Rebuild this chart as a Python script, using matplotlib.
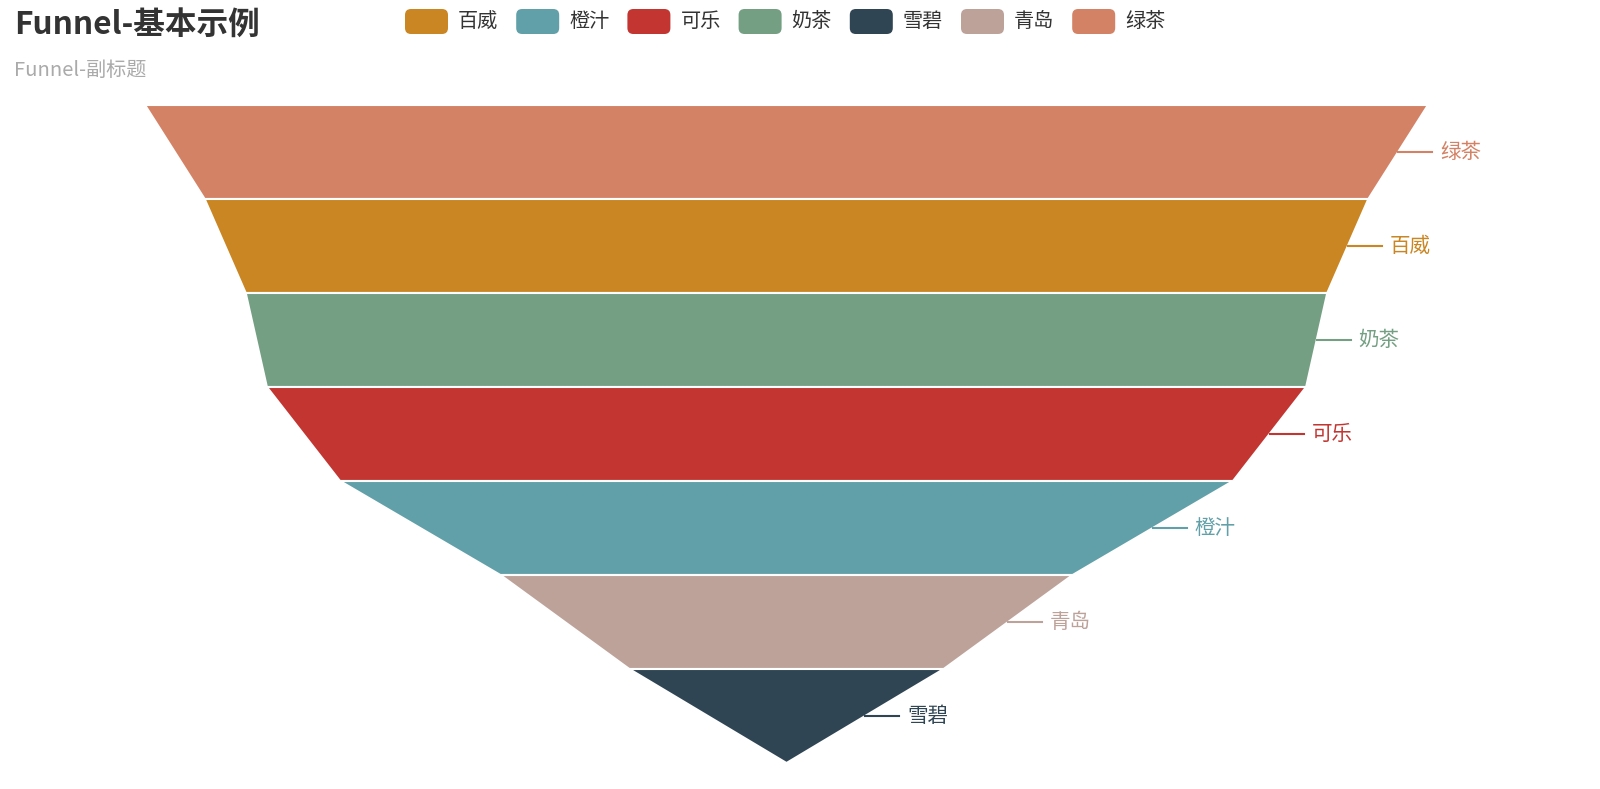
import matplotlib
matplotlib.use('Agg')
import matplotlib.pyplot as plt
from matplotlib.patches import Polygon, FancyBboxPatch

plt.rcParams['font.family'] = ['Noto Sans CJK SC', 'DejaVu Sans']

# data (legend / series order)
names = ['百威', '橙汁', '可乐', '奶茶', '雪碧', '青岛', '绿茶']
values = [90.7, 69.6, 81.0, 84.3, 24.5, 44.6, 100.0]
colors = ['#ca8622', '#61a0a8', '#c23531', '#749f83', '#2f4554', '#bda29a', '#d48265']

title = 'Funnel-基本示例'
subtitle = 'Funnel-副标题'

# layout in pixels
W, H = 1600, 789
cx = 786.5
top, bottom = 105, 763
full_w = 1283
vmax = 100.0

fig = plt.figure(figsize=(W / 100, H / 100), dpi=100)
ax = fig.add_axes([0, 0, 1, 1])
ax.set_xlim(0, W)
ax.set_ylim(H, 0)
ax.axis('off')

# funnel, sorted descending
order = sorted(range(len(values)), key=lambda i: values[i], reverse=True)
n = len(order)
step = (bottom - top) / n
for k, i in enumerate(order):
    y0 = top + k * step
    y1 = y0 + step
    w0 = values[i] / vmax * full_w
    w1 = values[order[k + 1]] / vmax * full_w if k + 1 < n else 0
    poly = Polygon([(cx - w0 / 2, y0), (cx + w0 / 2, y0),
                    (cx + w1 / 2, y1), (cx - w1 / 2, y1)],
                   closed=True, facecolor=colors[i], edgecolor='white', lw=1.5)
    ax.add_patch(poly)
    # label line from right edge midpoint
    xm = cx + (w0 + w1) / 4
    ym = (y0 + y1) / 2
    ax.plot([xm, xm + 34], [ym, ym], color=colors[i], lw=1.5)
    ax.text(xm + 42, ym, names[i], color=colors[i], fontsize=14.8,
            va='center', ha='left')

# title
ax.text(14, 25, title, fontsize=22.8, fontweight='bold', color='#333333',
        va='center', ha='left')
ax.text(14, 70, subtitle, fontsize=14.5, color='#aaaaaa',
        va='center', ha='left')

# legend
lx = 405
for i, nm in enumerate(names):
    x = lx + i * 111.2
    box = FancyBboxPatch((x, 9), 43, 25, boxstyle='round,pad=0,rounding_size=6',
                         facecolor=colors[i], edgecolor='none')
    ax.add_patch(box)
    ax.text(x + 53, 21.5, nm, fontsize=14.5, color='#333333', va='center', ha='left')

fig.savefig('out.png', dpi=100)
